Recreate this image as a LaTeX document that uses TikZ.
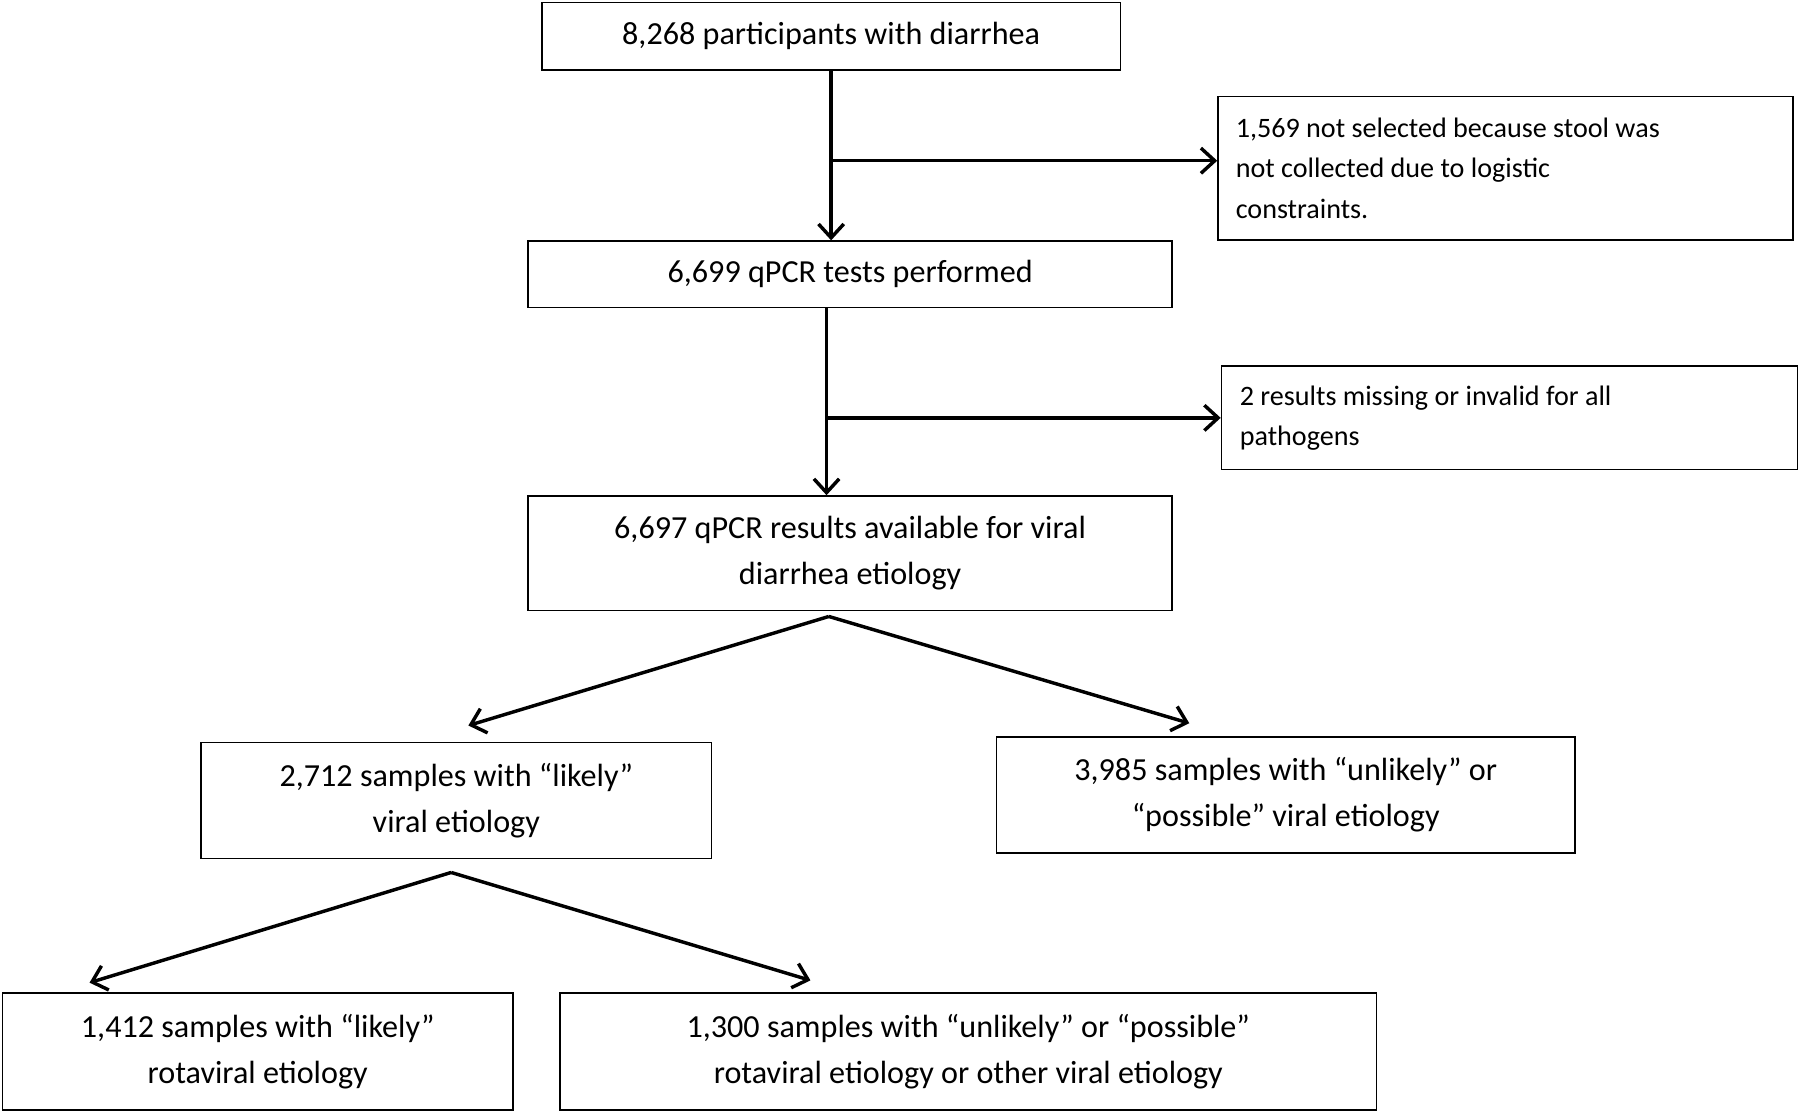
\documentclass[tikz,border=0pt]{standalone}
\usepackage{fontspec}
\setmainfont{Carlito}
\usetikzlibrary{arrows.meta}
\begin{document}
\begin{tikzpicture}[x=1pt,y=-1pt,
 box/.style={draw,line width=1.3pt,inner sep=0pt,align=center,font=\fontsize{28}{40}\selectfont},
 sbox/.style={draw,line width=1.3pt,inner sep=0pt,align=left,font=\fontsize{24.5}{35}\selectfont},
 arr/.style={line width=3pt,-{Straight Barb[length=12pt,width=22pt,line width=3pt]}},
 ln/.style={line width=3pt}]
\useasboundingbox (0,0) rectangle (1568,970);
\node[box,minimum width=504pt,minimum height=59pt] (a) at (724,31.5) {8,268 participants with diarrhea};
\node[sbox,minimum width=501pt,minimum height=125pt] (b) at (1311.5,146.5) {\begin{minipage}{470pt}1,569 not selected because stool was\\not collected due to logistic\\constraints.\end{minipage}};
\node[box,minimum width=561pt,minimum height=58pt] (c) at (740.5,239) {6,699 qPCR tests performed};
\node[sbox,minimum width=502pt,minimum height=90pt] (d) at (1315,364) {\begin{minipage}{470pt}2 results missing or invalid for all\\pathogens\end{minipage}};
\node[box,minimum width=561pt,minimum height=100pt] (e) at (740.5,482) {6,697 qPCR results available for viral\\diarrhea etiology};
\node[box,minimum width=445pt,minimum height=101pt] (f) at (397.5,697.5) {2,712 samples with “likely”\\viral etiology};
\node[box,minimum width=504pt,minimum height=101pt] (g) at (1120,692.5) {3,985 samples with “unlikely” or\\“possible” viral etiology};
\node[box,minimum width=445pt,minimum height=102pt] (h) at (224.5,916) {1,412 samples with “likely”\\rotaviral etiology};
\node[box,minimum width=711pt,minimum height=102pt] (i) at (843.5,916) {1,300 samples with “unlikely” or “possible”\\rotaviral etiology or other viral etiology};
\coordinate (a1) at (724,140);
\coordinate (c1) at (720,364);
\coordinate (e1) at (722,537);
\coordinate (f1) at (393,760);
\draw[arr] (a.south -| a1) -- (c.north -| a1);
\draw[arr] (a1) -- (b.west |- a1);
\draw[arr] (c.south -| c1) -- (e.north -| c1);
\draw[arr] (c1) -- (d.west |- c1);
\draw[arr] (e1) -- (408,632);
\draw[arr] (e1) -- (1036,630);
\draw[arr] (f1) -- (78,856);
\draw[arr] (f1) -- (706,854);
\end{tikzpicture}
\end{document}
